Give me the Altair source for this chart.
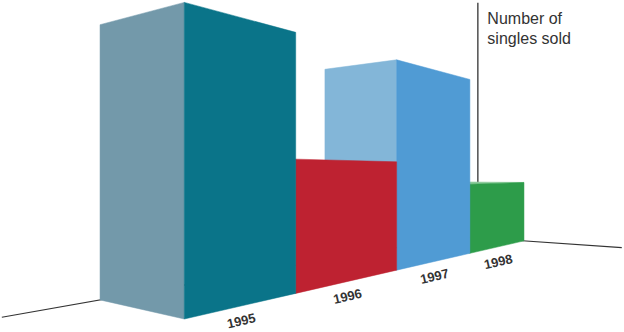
import math
import altair as alt
import pandas as pd

# ---------------- data ----------------
YEARS = ["1995", "1996", "1997", "1998"]
SALES = [59.7, 30.7, 59.6, 23.7]          # singles sold (index, axis top = 100)
AXIS_MAX = 100.0
WIDTHS = [2.74, 3.73, 4.06, 4.29]         # box widths along the year axis (world units)
DEPTHS = [2.39, 2.39, 2.18, 2.18]         # box depths (world units)
SIDE_COLORS = ["#7399AA", "#D8707B", "#83B6D8", "#72C289"]
FRONT_COLORS = ["#0A7489", "#BE2231", "#509BD4", "#2D9C4A"]
TOP_COLORS = ["#A9C4CF", "#E3A0A7", "#BCD8EC", "#8CCB9B"]
TITLE_LINES = ["Number of", "singles sold"]

# ---------------- camera (two-point perspective) ----------------
W, H = 624, 332
CX, CY = 312.0, 173.0          # principal point / horizon
F = 625.6                      # focal length
ALPHA = math.radians(39.02)    # yaw of the year axis
SA, CA = math.sin(ALPHA), math.cos(ALPHA)
L0, D0 = -2.041, 10.0          # near floor corner in camera frame
EYE = 2.334                    # eye height
AXIS_H = 8.478                 # world height of the value axis
AXIS_T = 1.68                  # depth position of the value axis
LEFT_EXT = -1.78               # extension of the back floor line toward the viewer
FRONT_EXT = -3.09              # extension of the side floor line toward the viewer


def project(s, t, h):
    L = L0 + s * SA - t * CA
    D = D0 + s * CA + t * SA
    return CX + F * L / D, CY + F * (EYE - h) / D


def poly_rows(face_id, pts3d):
    pts = [project(*p) for p in pts3d]
    n = len(pts)
    xs = []
    for p in sorted(q[0] for q in pts):
        if not xs or abs(p - xs[-1]) > 1e-6:
            xs.append(p)
    rows = []
    for k, x in enumerate(xs):
        ys = []
        for i in range(n):
            (px, py), (qx, qy) = pts[i], pts[(i + 1) % n]
            lo, hi = min(px, qx), max(px, qx)
            if lo - 1e-6 <= x <= hi + 1e-6:
                if abs(qx - px) < 1e-6:
                    ys += [py, qy]
                else:
                    ys.append(py + (x - px) * (qy - py) / (qx - px))
        rows.append({"face": face_id, "k": k, "x": float(x),
                     "y": float(min(ys)), "y2": float(max(ys))})
    return rows


# ---------------- build faces ----------------
s_edges = [0.0]
for w in WIDTHS:
    s_edges.append(s_edges[-1] + w)
s_end = s_edges[-1]

face_rows = []
face_layers = []   # (face_id, color), back to front
label_rows = []
fid = 0
for i in reversed(range(len(YEARS))):
    s0, s1, d = s_edges[i], s_edges[i + 1], DEPTHS[i]
    h = SALES[i] / AXIS_MAX * AXIS_H
    if h < EYE:
        face_rows += poly_rows(fid, [(s0, 0, h), (s1, 0, h), (s1, d, h), (s0, d, h)])
        face_layers.append((fid, TOP_COLORS[i])); fid += 1
    face_rows += poly_rows(fid, [(s0, 0, 0), (s0, d, 0), (s0, d, h), (s0, 0, h)])
    face_layers.append((fid, SIDE_COLORS[i])); fid += 1
    face_rows += poly_rows(fid, [(s0, 0, 0), (s1, 0, 0), (s1, 0, h), (s0, 0, h)])
    face_layers.append((fid, FRONT_COLORS[i])); fid += 1

for i, yr in enumerate(YEARS):
    x0, y0 = project(s_edges[i], 0, 0)
    x1, y1 = project(s_edges[i + 1], 0, 0)
    ang = math.degrees(math.atan2(y1 - y0, x1 - x0)) % 360
    label_rows.append({"year": yr, "x": (x0 + x1) / 2, "y": (y0 + y1) / 2, "ang": ang})

labels = pd.DataFrame(label_rows)

tb = DEPTHS[0]
ax0 = project(s_end, AXIS_T, 0)
ax1 = project(s_end, AXIS_T, AXIS_H)
ll0 = project(LEFT_EXT, tb, 0)
ll1 = project(s_end, tb, 0)
rl0 = project(s_end, FRONT_EXT, 0)
rl1 = project(s_end, tb, 0)
lines = pd.DataFrame([
    {"x": ll0[0], "y": ll0[1], "x2": ll1[0], "y2": ll1[1], "w": 1.1},
    {"x": rl0[0], "y": rl0[1], "x2": rl1[0], "y2": rl1[1], "w": 1.1},
    {"x": ax0[0], "y": ax0[1], "x2": ax1[0], "y2": ax1[1], "w": 1.3},
])
title = pd.DataFrame([{"x": ax1[0] + 9.5, "y": ax1[1] + 21.6,
                       "text": TITLE_LINES}])

xs = alt.Scale(domain=[0, W], nice=False, zero=False)
ys = alt.Scale(domain=[0, H], nice=False, zero=False, reverse=True)
X = lambda f: alt.X(f, scale=xs, axis=None)
Y = lambda f: alt.Y(f, scale=ys, axis=None)

layers = []
layers.append(
    alt.Chart(lines).mark_rule(color="#333333").encode(
        x=X("x:Q"), y=Y("y:Q"), x2="x2:Q", y2="y2:Q",
        strokeWidth=alt.StrokeWidth("w:Q", scale=None))
)
for face_id, col in face_layers:
    sub = pd.DataFrame([r for r in face_rows if r["face"] == face_id])
    layers.append(
        alt.Chart(sub)
        .mark_area(fill=col, stroke=col, strokeWidth=0.5, orient="vertical",
                   interpolate="linear")
        .encode(x=X("x:Q"), y=Y("y:Q"), y2=alt.Y2("y2:Q"))
    )
layers.append(
    alt.Chart(labels).mark_text(font="Liberation Sans", fontWeight="bold", fontSize=13,
                                color="#333333", align="center", baseline="middle",
                                dx=-2, dy=15)
    .encode(x=X("x:Q"), y=Y("y:Q"), text="year:N",
            angle=alt.Angle("ang:Q", scale=None))
)
layers.append(
    alt.Chart(title).mark_text(font="Liberation Sans", fontSize=16, color="#333333",
                               align="left", baseline="alphabetic", lineHeight=19.2)
    .encode(x=X("x:Q"), y=Y("y:Q"), text="text")
)

chart = alt.layer(*layers).properties(
    width=W, height=H, padding=0, autosize="none"
).configure_view(stroke=None)

chart.save("out.html", embed_options={"renderer": "svg", "actions": False})
